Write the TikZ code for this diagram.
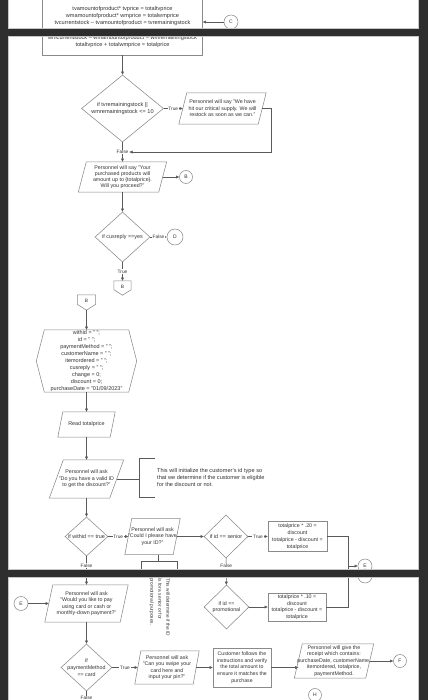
\documentclass[tikz,border=0pt]{standalone}
\usepackage{fontspec}
\setmainfont{Liberation Sans}
\usetikzlibrary{shapes.geometric,arrows.meta,calc}
\definecolor{bgdark}{HTML}{2E2E2E}
\definecolor{shp}{HTML}{8A8A8A}
\definecolor{con}{HTML}{5A5A5A}
\definecolor{txt}{HTML}{333333}
\tikzset{
  shapeline/.style={draw=shp,line width=0.55pt},
  box/.style={shapeline,rectangle,inner sep=0pt},
  dia/.style={shapeline,diamond,inner sep=0pt},
  circ/.style={shapeline,circle,inner sep=0pt,minimum size=13pt,text=txt,font=\fontsize{5}{6}\selectfont},
  hold/.style={rectangle,inner sep=0pt},
  txtn/.style={text=txt,align=center,inner sep=0pt,font=\fontsize{5.4}{6.6}\selectfont},
  conn/.style={draw=con,line width=0.55pt},
  arr/.style={conn,-{Triangle[length=3.2pt,width=2.8pt]}},
  lab/.style={txtn,fill=white,inner sep=0.7pt,font=\fontsize{4.8}{5.5}\selectfont},
}
\newcommand{\mypara}[7][]{%
  \node[hold,minimum width=#4,minimum height=#5] (#2) at #3 {};
  \draw[shapeline] ([xshift=-#6/2]#2.south west) -- ([xshift=-#6/2]#2.south east) -- ([xshift=#6/2]#2.north east) -- ([xshift=#6/2]#2.north west) -- cycle;
  \node[txtn,#1] (#2-t) at (#2.center) {#7};}
\newcommand{\myoff}[5]{%
  \node[hold,minimum width=#3,minimum height=#4] (#1) at #2 {};
  \draw[shapeline] (#1.north west) -- (#1.north east) -- ($(#1.north east)!0.62!(#1.south east)$) -- (#1.south) -- ($(#1.north west)!0.62!(#1.south west)$) -- cycle;
  \node[txtn,font=\fontsize{4.8}{5.5}\selectfont] (#1-t) at ([yshift=1.5]#1.center) {#5};}
\newcommand{\myhex}[6]{%
  \node[hold,minimum width=#3,minimum height=#4] (#1) at #2 {};
  \draw[shapeline] (#1.north west) -- (#1.north east) -- ([xshift=#5]#1.east) -- (#1.south east) -- (#1.south west) -- ([xshift=-#5]#1.west) -- cycle;
  \node[txtn,font=\fontsize{5.5}{7}\selectfont] (#1-t) at (#1.center) {#6};}
\begin{document}
\begin{tikzpicture}[x=1pt,y=-1pt]
\useasboundingbox (0,0) rectangle (428,700);
\fill[bgdark] (0,0) rectangle (428,700);
\fill[white] (8,0) rectangle (418,700);

% top calculation box
\node[box,minimum width=160pt,minimum height=80pt] (calc) at (122.5,15) {};
\node[txtn,font=\fontsize{5.6}{7}\selectfont] (calc-t1) at (122.5,16) {tvamountofproduct* tvprice = totaltvprice\\wmamountofproduct* wmprice = totalwmprice\\tvcurrentstock -- tvamountofproduct = tvremainingstock};
\node[txtn,font=\fontsize{5.6}{7}\selectfont] (calc-t2) at (122.5,41.5) {wmcurrentstock -- wmamountofproduct = wmremainingstock\\totaltvprice + totalwmprice = totalprice};
\node[circ,minimum size=14pt] (C) at (231,22) {C};
\draw[arr] (C) -- (C -| calc.east);

% stock check
\node[dia,minimum width=82pt,minimum height=67pt] (d1) at (122.5,108.5) {};
\node[txtn,font=\fontsize{5.6}{6.8}\selectfont] (d1-t) at (d1.center) {if tvremainingstock ||\\wmremainingstock <= 10};
\draw[arr] (calc) -- (d1);
\mypara[font=\fontsize{5.3}{6.4}\selectfont]{p1}{(222.5,108.5)}{79}{31}{8}{Personnel will say "We have\\hit our critical supply. We will\\restock as soon as we can."}
\draw[arr] (d1) -- node[lab]{True} (p1);

\mypara[font=\fontsize{5.3}{6}\selectfont]{p2}{(122.5,177)}{80}{30}{8}{Personnel will say "Your\\purchased products will\\amount up to \{totalprice\}.\\Will you proceed?"}
\draw[arr] (d1) -- node[lab,name=fl1]{False} (p2);
\draw[arr] (p1.east) -- ++(9,0) |- (fl1.east);
\node[circ] (B) at (186,177) {B};
\draw[arr] (p2) -- (B);

\node[dia,minimum width=55pt,minimum height=50pt] (d2) at (122.5,237) {};
\node[txtn] (d2-t) at (d2.center) {if cusreply ==yes};
\draw[arr] (p2) -- (d2);
\node[circ,minimum size=16pt] (D) at (175,237) {D};
\draw[arr] (d2) -- node[lab]{False} (D);
\myoff{B1}{(122.5,288)}{17}{14}{B}
\draw[arr] (d2) -- node[lab]{True} (B1);

% initialisation
\myoff{B2}{(86.5,302.5)}{18}{15}{B}
\myhex{hex}{(86.5,361)}{84}{62}{8}{withid = " ";\\id = " ";\\paymentMethod = " ";\\customerName = " ";\\itemordered = " ";\\cusreply = " ";\\change = 0;\\discount = 0;\\purchaseDate = "01/09/2023"}
\draw[arr] (B2) -- (hex);
\mypara{r1}{(86.5,424.5)}{52}{25}{5}{Read totalprice}
\draw[arr] (hex) -- (r1);
\mypara[font=\fontsize{5.3}{6.6}\selectfont]{p3}{(86.5,479)}{60}{38}{14}{Personnel will ask\\"Do you have a valid ID\\to get the discount?"}
\draw[arr] (r1) -- (p3);
\coordinate (br1) at (139,479);
\draw[conn] (p3.east) -- (br1);
\draw[conn] (155,458) -- (139,458) -- (139,497) -- (155,497);
\node[txtn,align=left,anchor=west,font=\fontsize{5.6}{7}\selectfont] (ann1) at (157,477) {This will initialize the customer's id type so\\that we determine if the customer is eligible\\for the discount or not.};

% discount row
\node[dia,minimum width=43pt,minimum height=39pt] (d3) at (86.5,536.5) {};
\node[txtn] (d3-t) at (d3.center) {if withid == true};
\draw[arr] (p3) -- (d3);
\mypara[font=\fontsize{5.3}{6.4}\selectfont]{p4}{(152.5,536.5)}{48}{36}{7}{Personnel will ask\\"Could I please have\\your ID?"}
\draw[arr] (d3) -- node[lab]{True} (p4);
\coordinate (br2) at (158.5,561);
\draw[conn] (p4.south -| br2) -- (br2);
\draw[conn] (141,575) -- (141,561) -- (177,561) -- (177,575);
\node[dia,minimum width=44pt,minimum height=43pt] (d4) at (226,536.5) {};
\node[txtn] (d4-t) at (d4.center) {if id == senior};
\draw[arr] (p4) -- (d4);
\node[box,minimum width=59pt,minimum height=30pt] (b20) at (297.5,536.5) {};
\node[txtn,font=\fontsize{5.3}{6.8}\selectfont] (b20-t) at (b20.center) {totalprice * .20 =\\discount\\totalprice - discount =\\totalprice};
\draw[arr] (d4) -- node[lab]{True} (b20);
\coordinate (Ej) at (348,566);
\node[circ,minimum size=14pt] (E) at (365,566) {E};
\draw[arr] (b20.east) -| (Ej) -- (E);

% panel 3
\node[txtn,rotate=-90,anchor=north west,align=left,font=\fontsize{4.8}{8}\selectfont] (ann2) at (170,578) {This will determine if the ID\\is for a senior or for\\promotional purposes.};
\mypara[font=\fontsize{5.3}{6.4}\selectfont]{p5}{(86.5,603.5)}{75}{37}{8}{Personnel will ask\\"Would you like to pay\\using card or cash or\\monthly-down payment?"}
\draw[arr] (d3) -- node[lab,pos=0.33]{False} (p5);
\node[circ,minimum size=14pt] (E2) at (21,603.5) {E};
\draw[arr] (E2) -- (p5);
\node[dia,minimum width=51pt,minimum height=47pt] (d5) at (86.5,667.5) {};
\node[txtn,font=\fontsize{5.3}{6.6}\selectfont] (d5-t) at (d5.center) {if\\paymentMethod\\== card};
\draw[arr] (p5) -- (d5);
\coordinate (d5out) at (86.5,720);
\draw[conn] (d5) -- node[lab,pos=0.24]{False} (d5out);
\mypara[font=\fontsize{5.3}{6.4}\selectfont]{p6}{(167,667.5)}{58}{33}{6}{Personnel will ask\\"Can you swipe your\\card here and\\input your pin?"}
\draw[arr] (d5) -- node[lab]{True} (p6);
\node[box,minimum width=58pt,minimum height=39pt] (b3) at (242,667.5) {};
\node[txtn,font=\fontsize{5.2}{6.7}\selectfont] (b3-t) at (b3.center) {Customer follows the\\instructions and verify\\the total amount to\\ensure it matches the\\purchase};
\draw[arr] (p6) -- (b3);
\mypara[font=\fontsize{5.3}{6.5}\selectfont]{p7}{(334,661)}{71}{34}{8}{Personnel will give the\\receipt which contains:\\purchaseDate, customerName,\\itemordered, totalprice,\\paymentMethod.}
\draw[arr] (b3.east) -- (b3.east -| p7.west);
\node[circ] (F) at (400,661) {F};
\draw[arr] (p7) -- (F);
\node[circ] (H) at (315,695) {H};

\node[dia,minimum width=45pt,minimum height=44pt] (d6) at (226.5,607) {};
\node[txtn,font=\fontsize{5.3}{6.6}\selectfont] (d6-t) at (d6.center) {if id ==\\promotional};
\draw[arr] (d4) -- node[lab,pos=0.3]{False} (d6);
\node[box,minimum width=58pt,minimum height=28pt] (b10) at (297,607) {};
\node[txtn,font=\fontsize{5.3}{6.6}\selectfont] (b10-t) at (b10.center) {totalprice * .10 =\\discount\\totalprice - discount =\\totalprice};
\draw[arr] (d6) -- (b10);
\draw[conn] (b10.east) -| (Ej);
\draw[shapeline] (365,576) circle[radius=7pt];

% dark gaps between the screenshot panels
\fill[bgdark] (0,28.5) rectangle (428,36.5);
\fill[bgdark] (0,569) rectangle (428,577);
\fill[bgdark] (0,0) rectangle (8,700);
\fill[bgdark] (418,0) rectangle (428,700);
\draw[gray!45,line width=0.3pt] (8,-1) rectangle (418,28.5) (8,36.5) rectangle (418,569) (8,577) rectangle (418,701);
\end{tikzpicture}
\end{document}
